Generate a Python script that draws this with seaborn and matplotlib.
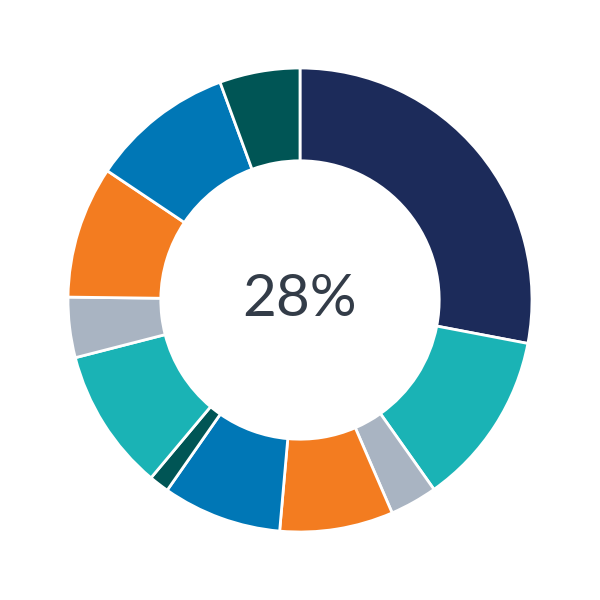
import matplotlib
matplotlib.use("Agg")
import matplotlib.pyplot as plt
import seaborn as sns

# segments clockwise from 12 o'clock (percent)
shares = [28.0, 12.2, 3.3, 7.9, 8.3, 1.4, 9.9, 4.2, 9.2, 10.0, 5.6]
colors = ["#1c2b5a", "#1ab3b5", "#a9b4c2", "#f37c20", "#0077b6", "#005555",
          "#1ab3b5", "#a9b4c2", "#f37c20", "#0077b6", "#005555"]
center_label = "28%"

sns.set_theme(style="white")
plt.rcParams["font.family"] = ["Lato", "DejaVu Sans"]

fig = plt.figure(figsize=(6, 6), dpi=100)
ax = fig.add_axes([0, 0, 1, 1])

ax.pie(shares, colors=colors, startangle=90, counterclock=False,
       radius=1.0,
       wedgeprops=dict(width=0.4, edgecolor="white", linewidth=2))

ax.text(0, 0, center_label, ha="center", va="center", fontsize=42,
        fontweight="normal", color="#333c48")

lim = 300 / 232
ax.set_xlim(-lim, lim)
ax.set_ylim(-lim, lim)
ax.set_aspect("equal")
ax.axis("off")

fig.savefig("out.png", dpi=100, facecolor="white")
